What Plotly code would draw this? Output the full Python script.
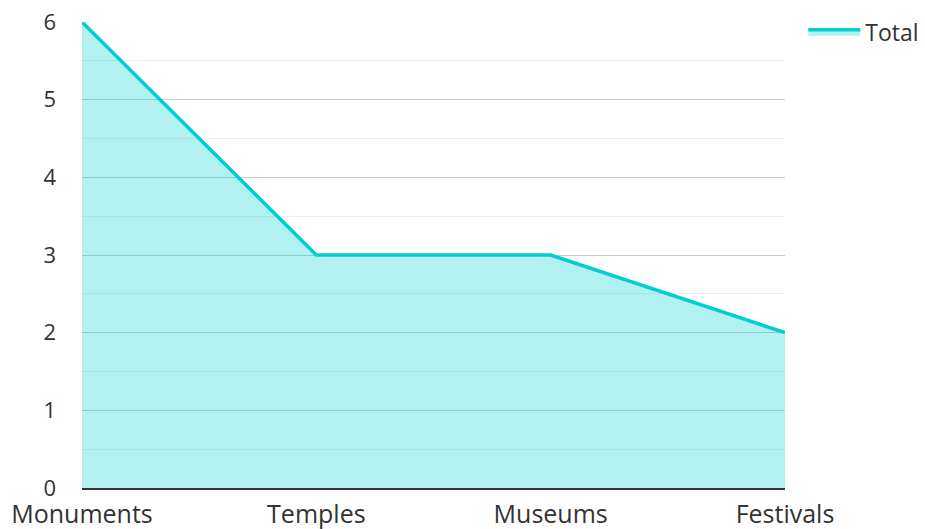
import plotly.graph_objects as go

categories = ["Monuments", "Temples", "Museums", "Festivals"]
totals = [6, 3, 3, 2]

fig = go.Figure()
fig.add_trace(go.Scatter(
    x=categories, y=totals, name="Total", mode="lines",
    line=dict(color="#00CED1", width=3.5),
    fill="tozeroy", fillcolor="rgba(0,206,209,0.3)",
    showlegend=True,
))

fig.update_layout(
    width=925, height=529,
    margin=dict(l=74, r=148, t=14, b=49, autoexpand=False),
    paper_bgcolor="white", plot_bgcolor="white",
    font=dict(family="Open Sans", size=22, color="#333"),
    legend=dict(x=1.026, y=1.025, xanchor="left", yanchor="top",
                font=dict(size=23), itemwidth=52, borderwidth=0,
                bgcolor="rgba(0,0,0,0)"),
    xaxis=dict(range=[0, 3], showgrid=False, showline=True,
               linecolor="#333", linewidth=2, automargin=False,
               ticks="", zeroline=False, tickfont=dict(size=25),
               ticklabelstandoff=3),
    yaxis=dict(range=[0, 6], dtick=1, showgrid=True, gridcolor="#cccccc",
               gridwidth=1, zeroline=False, showline=False,
               ticklabelstandoff=25, automargin=False, tickfont=dict(size=22),
               ticklabeloverflow="allow",
               minor=dict(dtick=0.5, showgrid=True, gridcolor="#eeeeee", gridwidth=1)),
)

fig.write_html("out.html")
